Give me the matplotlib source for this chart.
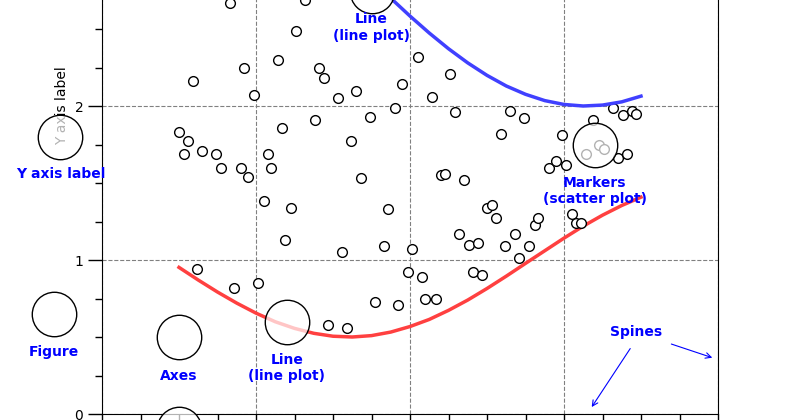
import matplotlib
matplotlib.use("Agg")
import matplotlib.pyplot as plt
from matplotlib.ticker import MultipleLocator

# line samples
line_x = [0.5, 0.625, 0.75, 0.875, 1.0, 1.125, 1.25, 1.375, 1.5, 1.625, 1.75, 1.875, 2.0, 2.125,
          2.25, 2.375, 2.5, 2.625, 2.75, 2.875, 3.0, 3.125, 3.25, 3.375, 3.5]
blue_y = [3.878, 3.811, 3.732, 3.641, 3.540, 3.431, 3.315, 3.195, 3.071, 2.946, 2.822, 2.700, 2.584,
          2.474, 2.372, 2.280, 2.199, 2.130, 2.076, 2.035, 2.010, 2.000, 2.006, 2.027, 2.064]
red_y = [0.952, 0.870, 0.792, 0.720, 0.655, 0.599, 0.556, 0.524, 0.505, 0.500, 0.509, 0.532, 0.568,
         0.614, 0.673, 0.740, 0.815, 0.895, 0.978, 1.060, 1.142, 1.220, 1.291, 1.354, 1.408]

# scatter points
pts_x = [0.83, 1.32, 1.26, 1.14, 0.92, 0.59, 1.41, 1.44, 0.99, 1.53, 1.65, 1.95, 2.05, 2.26, 2.14,
         1.90, 1.74, 1.38, 1.17, 0.50, 0.56, 0.53, 0.65, 0.74, 0.77, 0.90, 0.95, 1.08, 1.10, 1.62,
         1.68, 1.05, 1.23, 1.19, 1.56, 1.86, 1.83, 2.01, 1.99, 2.08, 2.10, 2.17, 1.77, 1.92, 1.47,
         1.59, 1.01, 0.86, 0.62, 2.29, 2.20, 2.23, 2.35, 2.32, 2.38, 2.44, 2.50, 2.53, 2.56, 2.41,
         2.47, 2.62, 2.68, 2.71, 2.77, 2.81, 2.83, 2.65, 2.59, 2.74, 2.90, 2.95, 2.99, 3.01, 3.05,
         3.08, 3.11, 3.14, 3.19, 3.23, 3.26, 3.32, 3.35, 3.38, 3.41, 3.44, 3.47]
pts_y = [2.67, 2.69, 2.49, 2.30, 2.25, 2.16, 2.25, 2.18, 2.07, 2.05, 2.10, 2.14, 2.32, 2.21, 2.06,
         1.99, 1.93, 1.91, 1.86, 1.83, 1.77, 1.69, 1.71, 1.69, 1.60, 1.60, 1.54, 1.69, 1.60, 1.77,
         1.53, 1.38, 1.34, 1.13, 1.05, 1.33, 1.09, 1.07, 0.92, 0.89, 0.75, 0.75, 0.73, 0.71, 0.58,
         0.56, 0.85, 0.82, 0.94, 1.96, 1.55, 1.56, 1.52, 1.17, 1.10, 1.11, 1.34, 1.36, 1.27, 0.92,
         0.90, 1.09, 1.17, 1.01, 1.09, 1.23, 1.27, 1.97, 1.82, 1.92, 1.60, 1.64, 1.81, 1.62, 1.30,
         1.24, 1.24, 1.69, 1.91, 1.75, 1.72, 1.99, 1.66, 1.94, 1.69, 1.97, 1.95]

fig = plt.figure(figsize=(8, 4.2), dpi=100)
ax = fig.add_axes([102/800, 6/420, 616/800, 616/420])
ax.set_xlim(0, 4)
ax.set_ylim(0, 4)
ax.xaxis.set_major_locator(MultipleLocator(1))
ax.xaxis.set_minor_locator(MultipleLocator(0.25))
ax.yaxis.set_major_locator(MultipleLocator(1))
ax.yaxis.set_minor_locator(MultipleLocator(0.25))
ax.tick_params(which='major', length=10, width=1.0)
ax.tick_params(which='minor', length=5, width=1.0)
ax.tick_params(axis='x', labelbottom=False)
ax.grid(linestyle='--', linewidth=0.8, color='.5', zorder=-10)

ax.plot(line_x, blue_y, c=(0.25, 0.25, 1.0), lw=2.5, zorder=10)
ax.plot(line_x, red_y, c=(1.0, 0.25, 0.25), lw=2.5)
ax.plot(pts_x, pts_y, linewidth=0, marker='o', markerfacecolor='w', markeredgecolor='k', markersize=7)
ax.set_ylabel("Y axis label")

blue = (0, 0, 1)


def circle(x, y):
    ax.plot(x, y, 'o', markersize=32, markerfacecolor=(1, 1, 1, 0.7),
            markeredgecolor='k', markeredgewidth=1, clip_on=False, zorder=20)


def label(x, y, s):
    ax.text(x, y, s, color=blue, ha='center', va='center', fontsize=10,
            fontweight='bold', clip_on=False, zorder=30)


circle(-0.27, 1.80); label(-0.27, 1.56, "Y axis label")
circle(-0.31, 0.65); label(-0.31, 0.40, "Figure")
circle(0.5, 0.5); label(0.5, 0.25, "Axes")
circle(1.20, 0.60); label(1.20, 0.30, "Line\n(line plot)")
circle(1.75, 2.75); label(1.75, 2.51, "Line\n(line plot)")
circle(3.20, 1.75); label(3.20, 1.45, "Markers\n(scatter plot)")
circle(0.5, -0.10)

label(3.47, 0.53, "Spines")
for (tx, ty), (sx, sy) in [((3.98, 0.36), (3.68, 0.46)), ((3.17, 0.03), (3.44, 0.44))]:
    ax.annotate("", xy=(tx, ty), xytext=(sx, sy),
                arrowprops=dict(arrowstyle='->', color=blue, lw=0.8), annotation_clip=False)

fig.savefig("out.png")
